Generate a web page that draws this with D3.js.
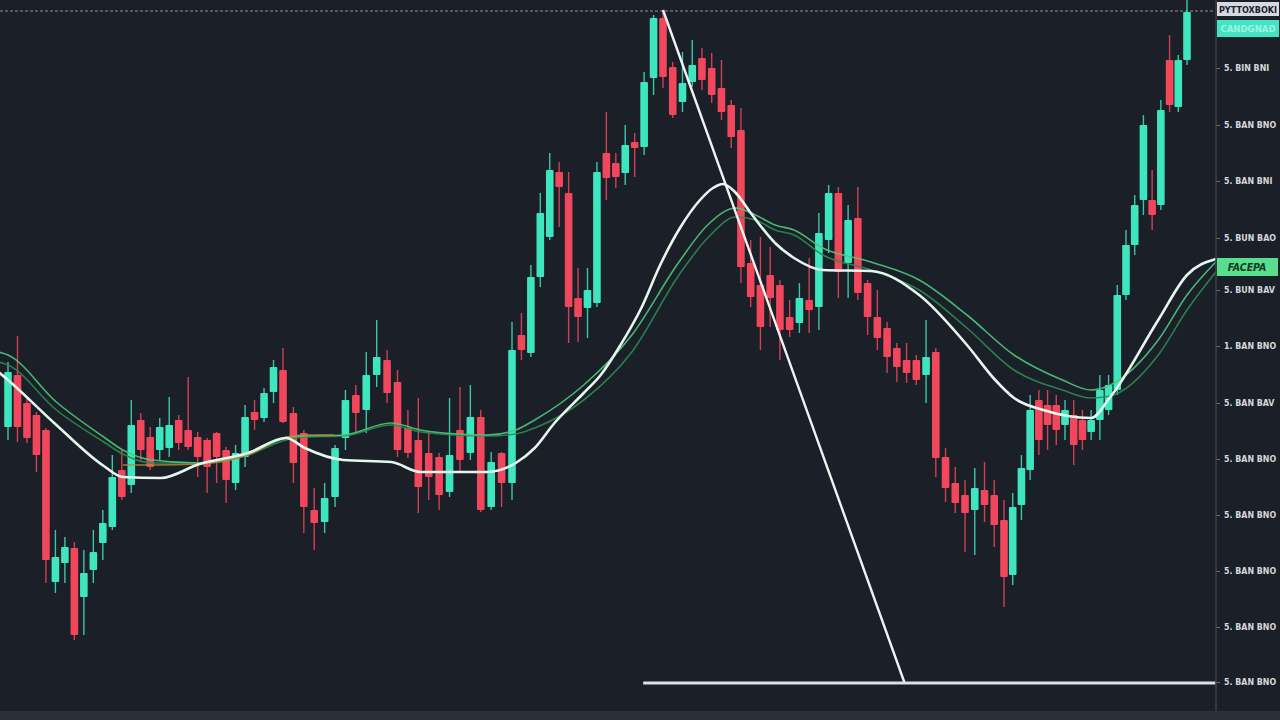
<!DOCTYPE html>
<html><head><meta charset="utf-8">
<script src="https://cdn.jsdelivr.net/npm/d3@7/dist/d3.min.js"></script>
<style>html,body{margin:0;padding:0;background:#1b1f27;overflow:hidden}</style>
</head><body><svg id="c" width="1280" height="720"></svg>
<script>
// ---- data (price units) ----
const opens = [573,625,597,585,570,418,437,452,403,430,457,473,530,515,580,563,550,552,580,570,563,560,567,550,517,543,588,582,608,630,587,567,490,478,503,562,605,590,625,640,618,572,560,547,543,508,570,547,583,493,547,517,665,647,723,763,828,807,702,692,697,847,837,827,858,853,922,982,933,898,918,942,932,912,895,870,737,715,725,715,683,677,700,693,760,807,737,782,717,683,672,652,640,640,625,648,543,517,505,490,510,505,480,425,495,530,600,595,595,575,585,580,568,580,590,610,705,755,800,800,795,940,893,940];
const closes = [628,573,562,545,440,443,453,365,427,448,477,523,503,575,550,533,573,575,557,553,543,533,543,520,547,583,580,607,633,578,537,493,477,502,552,600,587,625,643,607,550,547,513,523,505,545,540,583,490,538,517,650,650,723,787,830,813,693,683,710,828,822,823,855,852,918,982,923,885,917,935,920,905,888,863,733,703,673,702,670,670,702,690,767,807,728,780,707,683,662,643,633,627,620,643,542,512,497,487,512,495,475,423,493,532,590,560,575,570,590,555,560,580,610,615,705,755,795,875,785,890,895,940,988];
const highs = [638,664,602,588,572,470,463,458,450,470,490,545,550,600,587,573,582,603,585,623,568,562,568,553,555,595,600,612,640,652,593,570,512,517,555,610,615,648,680,650,630,590,602,567,547,602,613,615,590,548,548,678,687,735,807,847,838,828,732,732,838,888,847,875,867,928,985,990,938,948,960,952,947,940,900,892,760,763,753,720,700,717,742,787,815,813,795,813,720,710,678,657,657,645,680,652,552,533,520,532,538,520,500,507,545,605,610,610,605,600,600,590,590,625,625,715,770,805,885,830,900,965,945,1000];
const lows = [560,558,557,528,417,407,417,360,365,417,440,470,500,507,540,530,540,543,550,550,523,507,517,497,510,533,570,578,597,577,517,467,450,467,493,550,567,567,613,597,543,542,487,500,490,503,527,540,488,490,493,500,640,643,713,760,773,657,658,662,693,800,812,815,823,845,905,912,882,888,913,910,897,880,852,717,693,650,673,640,663,667,667,670,747,702,702,700,665,650,627,618,617,615,597,523,498,487,448,445,478,453,393,415,480,520,545,550,555,560,535,550,560,560,585,605,700,745,785,770,790,888,888,935];

// moving-average lines: [candle index, value]
const maWhite = [[-1,628],[0,620],[5.1,575],[10.1,534],[12.1,523],[16.1,522],[20.2,536],[25.3,547],[29.3,562],[31.1,552],[34.8,540],[39.4,538],[42.2,528],[48.6,528],[51.4,537],[53.4,552],[55.5,577],[58.6,607],[60.4,625],[62.5,655],[64.7,692],[66.7,735],[68.74,772],[70.8,800],[72.13,812],[73.16,816],[74.39,808],[75.93,788],[78.5,757],[80.45,742],[83.4,730],[88.35,729],[93.3,705],[98.2,655],[101.1,620],[103.15,602],[106.5,590],[112.0,582],[114.2,603],[119.7,680],[123,725],[126.3,741]];
const maGreen1 = [[-1,648],[0,645],[5.1,598],[10.1,563],[12.1,550],[15.2,540],[20.2,537],[25.3,546],[29.3,562],[31.1,564],[34.8,565],[39.4,577],[42.2,570],[45.8,566],[48.6,565],[51.4,570],[53.4,580],[58.6,615],[63.7,665],[68.64,738],[71.58,775],[74.49,792],[76.5,785],[78.5,775],[80.45,770],[83.4,752],[88.35,738],[93.3,720],[98.2,685],[103.15,645],[108.7,620],[112.0,610],[114.2,615],[119.7,660],[123,705],[126.3,738]];
const maGreen2 = [[-1,638],[0,635],[5.1,590],[10.1,558],[12.1,546],[15.2,537],[20.2,537],[25.3,545],[29.3,560],[31.1,563],[34.8,564],[39.4,575],[42.2,568],[48.6,564],[51.4,566],[53.4,572],[58.6,600],[63.7,648],[68.64,725],[71.58,762],[74.49,783],[76.5,780],[78.5,770],[80.45,765],[83.4,745],[88.35,730],[93.3,710],[98.2,672],[103.15,630],[108.7,610],[112.0,602],[114.2,604],[119.7,645],[123,690],[126.3,728]];
const maOrange = [[12.1,535],[15.2,535],[20.2,536],[25.3,545],[29.3,563],[31.1,565],[33.9,565]];

const trendLine = [[67,990],[91.8,317]];
const supportLine = [[64.9,317],[126.3,317]];
const topDashed = 989;

const tickValues = [932,875,819,762,710,654,597,541,485,429,373,318];
const tickLabels = ["5. BIN BNI","5. BAN BNO","5. BAN BNI","5. BUN BAO","5. BUN BAV","1. BAN BNO","5. BAN BAV","5. BAN BNO","5. BAN BNO","5. BAN BNO","5. BAN BNO","5. BAN BNO"];
const headerLabel = "PYTTOXBOKI";
const priceLabel = "CANDGNAD";
const maLabel = "FACEPA";
const priceLabelValue = 972;

// ---- drawing ----
const W = 1280, H = 720, axisX = 1216;
const svg = d3.select("#c");
svg.append("rect").attr("width",W).attr("height",H).attr("fill","#1b1f27");
svg.append("rect").attr("x",0).attr("y",711).attr("width",W).attr("height",9).attr("fill","#2a2f39");

const x = d3.scaleLinear().domain([0,29,51,67,102,123]).range([8,283,512,663,1004,1187]);
const y = d3.scaleLinear().domain([280,1000]).range([720,0]);

svg.append("line").attr("x1",0).attr("x2",axisX-2).attr("y1",y(topDashed)).attr("y2",y(topDashed))
  .attr("stroke","#8d939c").attr("stroke-width",1).attr("stroke-dasharray","3,2");

const candles = opens.map((o,i)=>({i,o,c:closes[i],h:highs[i],l:lows[i]}));
const up = "#3ee6bf", dn = "#f0475c";
const g = svg.append("g");
g.selectAll("line.w").data(candles).join("line").attr("class","w")
  .attr("x1",d=>x(d.i)).attr("x2",d=>x(d.i)).attr("y1",d=>y(d.h)).attr("y2",d=>y(d.l))
  .attr("stroke",d=>d.c>=d.o?up:dn).attr("stroke-width",1.4).attr("opacity",0.85);
g.selectAll("rect.b").data(candles).join("rect").attr("class","b")
  .attr("x",d=>x(d.i)-3.8).attr("width",7.6)
  .attr("y",d=>y(Math.max(d.o,d.c))).attr("height",d=>Math.max(2,Math.abs(y(d.o)-y(d.c))))
  .attr("fill",d=>d.c>=d.o?up:dn).attr("rx",1);

const lineGen = d3.line().x(d=>x(d[0])).y(d=>y(d[1])).curve(d3.curveMonotoneX);
svg.append("path").attr("d",lineGen(maGreen2)).attr("fill","none").attr("stroke","#2c8a52").attr("stroke-width",1.6).attr("opacity",0.9);
svg.append("path").attr("d",lineGen(maGreen1)).attr("fill","none").attr("stroke","#4cc77c").attr("stroke-width",1.6).attr("opacity",0.9);
svg.append("path").attr("d",lineGen(maOrange)).attr("fill","none").attr("stroke","#b48a3c").attr("stroke-width",1.5).attr("opacity",0.85);
svg.append("path").attr("d",lineGen(maWhite)).attr("fill","none").attr("stroke","#e4f6ee").attr("stroke-width",2.6);

const straight = d3.line().x(d=>x(d[0])).y(d=>y(d[1]));
svg.append("path").attr("d",straight(trendLine)).attr("stroke","#f2f2f2").attr("stroke-width",2.4).attr("fill","none");
svg.append("path").attr("d",straight(supportLine)).attr("stroke","#dde1e6").attr("stroke-width",3).attr("fill","none");

// right axis
const axis = d3.axisRight(y).tickValues(tickValues).tickFormat((d,i)=>tickLabels[i]).tickSize(4).tickPadding(4);
const ag = svg.append("g").attr("transform",`translate(${axisX},0)`).call(axis);
ag.select(".domain").remove();
ag.selectAll(".tick line").attr("stroke","#6a707a");
ag.selectAll(".tick text").attr("fill","#d3d7dd").attr("font-family","DejaVu Sans Condensed, DejaVu Sans").attr("font-weight","bold").attr("font-size",8.8);
svg.append("line").attr("x1",axisX).attr("x2",axisX).attr("y1",0).attr("y2",711).attr("stroke","#3c424d").attr("stroke-width",1.5);

// labels top right
svg.append("rect").attr("x",axisX+1).attr("y",2).attr("width",62).attr("height",14).attr("fill","#d6dae0");
svg.append("text").attr("x",axisX+32).attr("y",12.5).attr("text-anchor","middle").attr("fill","#1d222b")
  .attr("font-family","DejaVu Sans Condensed").attr("font-weight","bold").attr("font-size",9).text(headerLabel);
const py = y(priceLabelValue);
svg.append("rect").attr("x",axisX+1).attr("y",py-8).attr("width",62).attr("height",17).attr("fill","#43e3c4");
svg.append("text").attr("x",axisX+32).attr("y",py+4).attr("text-anchor","middle").attr("fill","#9ff5e2")
  .attr("font-family","DejaVu Sans Condensed").attr("font-weight","bold").attr("font-size",9.5).text(priceLabel);
const my = y(maWhite[maWhite.length-1][1]);
svg.append("rect").attr("x",axisX+1).attr("y",my-1).attr("width",61).attr("height",18).attr("fill","#58de8c");
svg.append("text").attr("x",axisX+31).attr("y",my+12).attr("text-anchor","middle").attr("fill","#123a22")
  .attr("font-family","DejaVu Sans Condensed").attr("font-weight","bold").attr("font-size",10.5).attr("font-style","italic").text(maLabel);
</script></body></html>
